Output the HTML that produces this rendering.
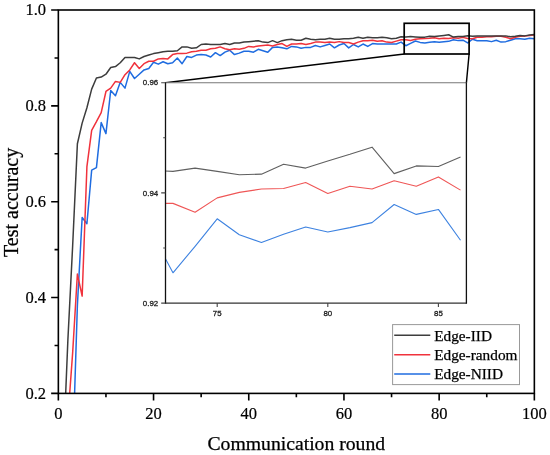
<!DOCTYPE html>
<html><head><meta charset="utf-8"><title>Test accuracy vs communication round</title>
<style>html,body{margin:0;padding:0;background:#fff;}body{width:550px;height:455px;overflow:hidden;}svg{display:block;}</style>
</head><body>
<svg width="550" height="455" viewBox="0 0 550 455"><defs><clipPath id="cm"><rect x="58.35" y="10" width="476" height="383.4"/></clipPath><clipPath id="ci"><rect x="165.5" y="82.7" width="300.9" height="220.40000000000003"/></clipPath></defs><rect width="550" height="455" fill="#fff"/><g clip-path="url(#cm)" fill="none" stroke-width="1.5" stroke-linejoin="round"><polyline points="58.35,479.66 63.11,474.87 67.87,470.08 72.63,455.70 77.39,305.22 82.15,217.52 86.91,223.75 91.67,170.07 96.43,167.67 101.19,122.62 105.95,133.65 110.71,90.51 115.47,95.79 120.23,82.37 124.99,88.12 129.75,71.34 134.51,78.53 139.27,74.22 144.03,69.91 148.79,68.47 153.55,62.24 158.31,64.16 163.07,61.76 167.83,63.68 172.59,62.72 177.35,57.93 182.11,63.68 186.87,56.49 191.63,57.45 196.39,55.05 201.15,54.57 205.91,55.05 210.67,56.97 215.43,52.65 220.19,55.53 224.95,52.17 229.71,50.26 234.47,54.57 239.23,53.13 243.99,51.22 248.75,51.22 253.51,52.17 258.27,49.30 263.03,50.74 267.79,52.17 272.55,47.38 277.31,46.90 282.07,47.86 286.83,48.82 291.59,46.42 296.35,46.90 301.11,48.34 305.87,47.38 310.63,47.38 315.39,45.46 320.15,46.90 324.91,45.46 329.67,44.03 334.43,47.86 339.19,44.99 343.95,43.55 348.71,47.86 353.47,44.51 358.23,46.90 362.99,44.03 367.75,46.42 372.51,43.55 377.27,44.03 382.03,44.03 386.79,44.03 391.55,44.03 396.31,44.03 401.07,42.11 405.83,45.70 410.59,43.40 415.35,41.01 420.11,42.40 424.87,43.07 429.63,42.35 434.39,41.73 439.15,42.16 443.91,41.77 448.67,41.34 453.43,39.76 458.19,40.62 462.95,40.19 467.71,42.88 472.47,39.23 477.23,40.67 481.99,40.67 486.75,40.67 491.51,41.63 496.27,40.19 501.03,42.11 505.79,41.63 510.55,40.19 515.31,38.75 520.07,38.75 524.83,39.23 529.59,38.28 534.35,38.75" stroke="#1f6ce0"/><polyline points="58.35,465.29 63.11,450.91 67.87,418.32 72.63,353.14 77.39,274.07 82.15,296.11 86.91,166.71 91.67,130.29 96.43,121.67 101.19,112.56 105.95,91.47 110.71,88.12 115.47,81.41 120.23,82.37 124.99,74.70 129.75,69.91 134.51,62.72 139.27,68.47 144.03,63.68 148.79,61.28 153.55,61.28 158.31,58.88 163.07,58.40 167.83,58.88 172.59,54.57 177.35,53.61 182.11,53.61 186.87,53.13 191.63,51.69 196.39,51.22 201.15,50.26 205.91,50.26 210.67,48.82 215.43,48.34 220.19,46.90 224.95,48.82 229.71,49.78 234.47,48.82 239.23,49.30 243.99,48.34 248.75,46.42 253.51,46.90 258.27,45.94 263.03,45.46 267.79,44.99 272.55,45.94 277.31,44.51 282.07,43.55 286.83,46.42 291.59,44.03 296.35,44.03 301.11,43.55 305.87,44.51 310.63,43.55 315.39,42.11 320.15,42.11 324.91,42.59 329.67,42.11 334.43,42.59 339.19,41.63 343.95,42.59 348.71,42.59 353.47,44.03 358.23,42.11 362.99,40.67 367.75,40.67 372.51,40.19 377.27,41.15 382.03,40.67 386.79,42.11 391.55,42.59 396.31,41.15 401.07,39.71 405.83,39.67 410.59,40.43 415.35,39.19 420.11,38.71 424.87,38.42 429.63,38.37 434.39,37.84 439.15,38.80 443.91,38.18 448.67,38.42 453.43,37.70 458.19,38.18 462.95,37.37 467.71,38.52 472.47,38.75 477.23,37.32 481.99,37.32 486.75,36.84 491.51,36.84 496.27,36.36 501.03,36.36 505.79,37.32 510.55,38.75 515.31,37.32 520.07,36.36 524.83,35.88 529.59,35.40 534.35,34.92" stroke="#f0323c"/><polyline points="58.35,465.29 63.11,455.70 67.87,340.20 72.63,246.27 77.39,143.71 82.15,123.10 86.91,107.77 91.67,89.08 96.43,78.05 101.19,77.10 105.95,74.22 110.71,67.51 115.47,66.55 120.23,62.72 124.99,57.45 129.75,57.45 134.51,57.45 139.27,58.88 144.03,56.49 148.79,55.05 153.55,53.61 158.31,52.65 163.07,51.69 167.83,51.22 172.59,51.22 177.35,50.74 182.11,46.90 186.87,46.90 191.63,48.34 196.39,47.86 201.15,44.51 205.91,44.03 210.67,44.51 215.43,44.51 220.19,44.51 224.95,43.55 229.71,44.51 234.47,43.07 239.23,43.07 243.99,42.11 248.75,41.63 253.51,41.15 258.27,40.67 263.03,42.11 267.79,42.59 272.55,40.67 277.31,42.59 282.07,40.67 286.83,39.71 291.59,39.23 296.35,40.19 301.11,40.19 305.87,38.28 310.63,39.23 315.39,39.71 320.15,39.23 324.91,39.23 329.67,38.28 334.43,39.23 339.19,39.23 343.95,38.75 348.71,38.75 353.47,38.28 358.23,37.32 362.99,38.28 367.75,37.32 372.51,37.80 377.27,37.80 382.03,37.32 386.79,37.80 391.55,38.75 396.31,38.28 401.07,36.84 405.83,36.89 410.59,36.60 415.35,36.89 420.11,37.17 424.87,37.13 429.63,36.26 434.39,36.60 439.15,35.98 443.91,35.40 448.67,34.78 453.43,37.08 458.19,36.41 462.95,36.45 467.71,35.64 472.47,36.36 477.23,35.88 481.99,35.88 486.75,35.88 491.51,35.88 496.27,35.88 501.03,35.88 505.79,35.88 510.55,36.84 515.31,36.36 520.07,35.40 524.83,35.88 529.59,34.92 534.35,34.44" stroke="#3d3d3d"/></g><rect x="58.35" y="10.0" width="476.0" height="383.4" fill="none" stroke="#000" stroke-width="1.6"/><path d="M51.15,393.40H58.35M54.55,345.48H58.35M51.15,297.55H58.35M54.55,249.62H58.35M51.15,201.70H58.35M54.55,153.78H58.35M51.15,105.85H58.35M54.55,57.93H58.35M51.15,10.00H58.35M58.35,393.4V400.60M105.95,393.4V397.20M153.55,393.4V400.60M201.15,393.4V397.20M248.75,393.4V400.60M296.35,393.4V397.20M343.95,393.4V400.60M391.55,393.4V397.20M439.15,393.4V400.60M486.75,393.4V397.20M534.35,393.4V400.60" stroke="#000" stroke-width="1.6" fill="none"/><g font-family="Liberation Serif, serif" font-size="16.5" fill="#000" stroke="#000" stroke-width="0.2"><text x="46" y="398.60" text-anchor="end">0.2</text><text x="46" y="302.75" text-anchor="end">0.4</text><text x="46" y="206.90" text-anchor="end">0.6</text><text x="46" y="111.05" text-anchor="end">0.8</text><text x="46" y="15.20" text-anchor="end">1.0</text><text x="58.35" y="418.7" text-anchor="middle">0</text><text x="153.55" y="418.7" text-anchor="middle">20</text><text x="248.75" y="418.7" text-anchor="middle">40</text><text x="343.95" y="418.7" text-anchor="middle">60</text><text x="439.15" y="418.7" text-anchor="middle">80</text><text x="534.35" y="418.7" text-anchor="middle">100</text></g><text x="296.3" y="449.5" text-anchor="middle" font-family="Liberation Serif, serif" font-size="19.7" stroke="#000" stroke-width="0.25">Communication round</text><text transform="translate(18.0,202.4) rotate(-90)" text-anchor="middle" font-family="Liberation Serif, serif" font-size="20" stroke="#000" stroke-width="0.25">Test accuracy</text><rect x="404.2" y="23.3" width="64.9" height="30.7" fill="none" stroke="#000" stroke-width="1.7"/><path d="M404.3,54L165.5,82.7M469.1,54L466.4,82.7" stroke="#000" stroke-width="1.45" fill="none"/><rect x="165.5" y="82.7" width="300.9" height="220.40000000000003" fill="#fff"/><g clip-path="url(#ci)" fill="none" stroke-width="1.1" stroke-linejoin="round"><polyline points="150.84,170.31 172.96,171.41 195.08,168.10 217.20,171.41 239.32,174.72 261.44,174.17 283.56,164.25 305.68,168.10 327.80,160.94 349.92,154.33 372.04,147.17 394.16,173.61 416.28,165.90 438.40,166.45 460.52,157.08" stroke="#606060"/><polyline points="150.84,203.37 172.96,203.37 195.08,212.18 217.20,197.86 239.32,192.35 261.44,189.04 283.56,188.49 305.68,182.43 327.80,193.45 349.92,186.29 372.04,189.04 394.16,180.78 416.28,186.29 438.40,176.92 460.52,190.14" stroke="#ef5656"/><polyline points="150.84,231.47 172.96,272.79 195.08,246.35 217.20,218.80 239.32,234.78 261.44,242.49 283.56,234.22 305.68,227.06 327.80,232.02 349.92,227.61 372.04,222.65 394.16,204.47 416.28,214.39 438.40,209.43 460.52,240.29" stroke="#3d82e0"/></g><path d="M165.5,82.7H466.4" stroke="#777" stroke-width="1.1"/><path d="M165.5,303.1H466.4" stroke="#333" stroke-width="1.3"/><path d="M165.5,82.2V303.70000000000005M466.4,82.2V303.70000000000005" stroke="#111" stroke-width="1.3"/><path d="M161.20,303.10H165.5M163.20,248.00H165.5M161.20,192.90H165.5M163.20,137.80H165.5M161.20,82.70H165.5M217.20,303.1V306.90M327.80,303.1V306.90M438.40,303.1V306.90" stroke="#444" stroke-width="1.1" fill="none"/><g font-family="Liberation Sans, sans-serif" font-size="7.9" fill="#222" stroke="#222" stroke-width="0.3"><text x="158.2" y="305.70" text-anchor="end">0.92</text><text x="158.2" y="195.50" text-anchor="end">0.94</text><text x="158.2" y="85.30" text-anchor="end">0.96</text><text x="217.20" y="315.9" text-anchor="middle">75</text><text x="327.80" y="315.9" text-anchor="middle">80</text><text x="438.40" y="315.9" text-anchor="middle">85</text></g><rect x="392.6" y="324.6" width="126.9" height="60" fill="#fff" stroke="#999" stroke-width="1"/><path d="M394.2,335.3H430.3" stroke="#3d3d3d" stroke-width="1.4"/><path d="M394.2,354.7H430.3" stroke="#f0323c" stroke-width="1.4"/><path d="M394.2,374.0H430.3" stroke="#1f6ce0" stroke-width="1.4"/><g font-family="Liberation Serif, serif" font-size="15.3" fill="#000" stroke="#000" stroke-width="0.25"><text x="434.2" y="340.5">Edge-IID</text><text x="434.2" y="359.9">Edge-random</text><text x="434.2" y="379.2">Edge-NIID</text></g></svg>
</body></html>
